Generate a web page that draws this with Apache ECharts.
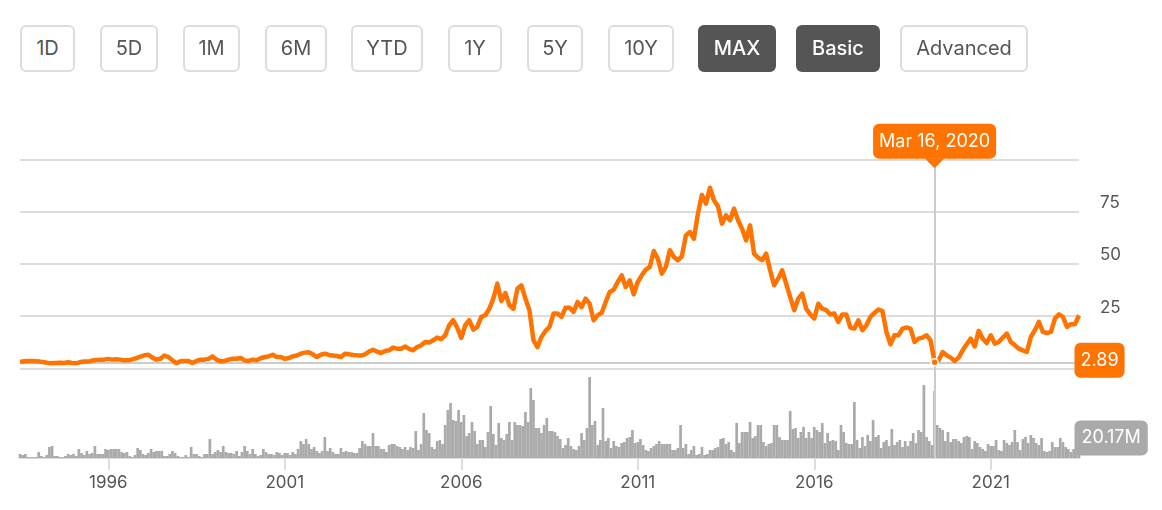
<!DOCTYPE html>
<html>
<head>
<meta charset="utf-8">
<style>
html, body { margin: 0; padding: 0; background: #fff; }
#chart { position: absolute; left: 0; top: 0; width: 1162px; height: 510px; }
.btn {
    position: absolute; top: 25px; height: 47px; box-sizing: border-box;
    border: 2px solid #ddd; border-radius: 6px; background: #fff; color: #555;
    font: 20px/43px Inter, "Liberation Sans", sans-serif; text-align: center;
}
.btn.on { background: #555; border-color: #555; color: #fff; font-weight: 500; }
</style>
<script src="https://cdn.jsdelivr.net/npm/echarts@6/dist/echarts.min.js"></script>
</head>
<body>
<div id="chart"></div>
<script>
// range buttons: label, left, right, active
var buttons = [
    ['1D', 20, 75, 0], ['5D', 100, 158, 0], ['1M', 183, 240, 0], ['6M', 265, 327, 0],
    ['YTD', 351, 423, 0], ['1Y', 448, 502, 0], ['5Y', 527, 583, 0], ['10Y', 608, 674, 0],
    ['MAX', 698, 776, 1], ['Basic', 796, 880, 1], ['Advanced', 900, 1028, 0]
];

var tickLabels = ['1996', '2001', '2006', '2011', '2016', '2021'];
var priceTicks = [25, 50, 75];

// price
var priceValues = [
    3.0,3.35,3.5,3.5,3.35,3.2,2.9,2.55,2.4,2.55,
    2.7,2.55,2.9,2.55,2.4,3.0,3.2,3.2,3.7,4.0,
    4.15,4.15,4.5,4.15,4.3,4.15,3.8,3.8,4.3,4.9,
    5.6,6.2,6.5,5.1,4.15,4.6,6.1,5.4,3.8,2.4,
    3.35,3.5,3.5,2.55,3.5,4.15,4.15,4.5,5.7,4.15,
    3.35,3.5,4.15,4.6,4.6,4.9,3.8,3.5,4.15,3.8,
    4.8,5.4,5.7,6.5,5.4,5.4,4.5,4.9,5.7,6.1,
    7.0,7.5,7.7,6.7,5.4,6.5,7.0,6.4,6.1,5.9,
    5.4,7.0,6.7,6.4,6.2,6.1,6.7,8.0,8.9,8.0,
    7.3,8.3,8.6,9.9,9.4,9.4,10.4,9.3,8.6,
    10.2,11.0,12.6,12.3,13.4,14.7,14.0,
    15.8,20.6,23.0,19.5,14.5,20.6,23.0,18.5,19.8,24.6,
    25.4,28.5,33.3,40.5,32.2,36.0,30.1,28.5,38.1,39.7,
    33.3,27.8,13.4,10.2,15.0,17.9,19.8,26.2,26.2,24.6,
    29.0,29.0,27.0,31.7,29.3,33.3,30.9,23.0,25.4,26.5,
    31.7,36.5,37.6,41.3,44.5,38.9,42.1,35.4,41.3,44.5,
    47.2,48.5,56.1,52.5,45.3,48.5,56.5,53.3,51.7,53.6,
    63.6,65.2,62.0,74.0,83.0,78.8,86.4,80.4,77.5,69.2,
    73.2,70.8,76.4,70.8,66.8,61.2,68.4,54.9,53.0,51.7,
    54.9,46.9,39.7,42.9,46.9,40.5,34.1,27.8,33.3,35.7,
    28.5,25.8,23.8,30.9,28.5,27.8,25.8,26.2,22.2,25.8,
    25.8,19.5,19.0,23.0,18.2,20.6,24.6,26.5,28.1,27.4,
    17.4,11.5,15.8,15.8,19.0,19.5,19.0,12.6,14.2,14.7,
    15.8,13.4,2.89,
    3.8,7.8,6.2,5.1,3.5,5.1,8.6,11.5,14.2,10.5,
    17.9,14.2,12.1,15.8,11.8,12.6,14.7,16.6,12.6,11.0,
    9.4,8.6,7.8,15.0,18.2,22.2,17.4,16.9,17.4,23.8,
    25.8,24.6,19.8,21.1,21.1,25.4
];

// volume in millions
var volumeValues = [
    8,6,8,2,2,2,2,12,4,2,6,22,24,4,4,2,2,4,8,6,8,4,18,10,6,14,8,10,24,8,8,8,18,16,18,18,18,18,12,10,
    12,4,2,6,20,16,8,6,10,18,12,14,14,14,4,4,8,14,10,4,2,2,6,2,22,8,8,4,2,8,8,38,8,12,16,12,24,12,10,10,
    8,14,4,12,24,14,8,18,8,4,6,18,12,8,8,6,12,10,6,10,10,6,12,8,18,34,28,38,28,18,22,14,10,14,42,14,20,12,8,8,
    20,12,14,12,12,10,10,20,34,28,24,24,50,24,24,18,18,12,26,28,28,24,22,18,22,16,22,20,54,16,28,90,56,50,
    22,18,34,36,28,66,96,110,76,74,96,72,86,44,50,72,54,28,36,36,22,52,104,48,26,70,40,36,48,72,36,72,66,66,64,92,72,140,116,60,
    60,50,66,80,54,54,52,44,38,20,26,40,24,18,16,24,50,36,60,162,66,74,26,36,100,34,40,20,34,24,22,30,32,40,42,56,30,32,38,26,
    16,14,20,24,28,34,28,28,28,28,16,16,20,66,20,28,8,16,24,6,8,22,6,8,16,16,20,22,38,40,28,32,16,12,70,30,52,52,52,72,
    40,44,66,66,32,24,28,30,66,66,42,36,36,36,94,58,60,40,52,62,40,52,40,62,56,52,70,30,50,34,36,34,16,66,52,30,28,28,112,36,
    20,42,24,46,
    34,76,42,46,20,32,36,24,58,26,32,36,22,34,24,34,50,30,56,52,146,42,34,26,134,66,60,56,34,52,32,38,38,34,30,42,44,42,18,34,
    30,22,18,14,28,24,24,36,16,14,36,30,26,32,56,32,16,38,42,30,46,40,30,26,40,14,12,14,32,22,22,40,32,22,18,12,18,22,20.17
];

var crossDate = 'Mar 16, 2020';
var crossPrice = 2.89;
var lastVolume = 20.17;

buttons.forEach(function (b) {
    var el = document.createElement('div');
    el.className = b[3] ? 'btn on' : 'btn';
    el.textContent = b[0];
    el.style.left = b[1] + 'px';
    el.style.width = (b[2] - b[1]) + 'px';
    document.body.appendChild(el);
});

var priceCats = priceValues.map(function (v, i) { return String(i); });
var volumeCats = volumeValues.map(function (v, i) { return String(i); });
var crossIndex = priceValues.indexOf(crossPrice);
var crossVolIndex = Math.round(crossIndex * 1.5);
var fontName = 'Inter, "Liberation Sans", sans-serif';
var orange = '#ff7300';
var grey = '#aaaaaa';

function isTickIndex(i) {
    return i >= 33 && (i - 33) % 66 === 0;
}

// invisible anchor so a label can sit on a markPoint
var anchor = {symbol: 'rect', symbolSize: 1, itemStyle: {color: 'transparent'}};

var chart = echarts.init(document.getElementById('chart'));
chart.setOption({
    animation: false,
    grid: [
        {left: 20, width: 1059, top: 159.3, height: 209},
        {left: 20, width: 1059, top: 368, height: 90}
    ],
    xAxis: [
        {
            gridIndex: 0, type: 'category', data: priceCats, boundaryGap: false,
            axisLine: {show: false}, axisTick: {show: false}, axisLabel: {show: false}, splitLine: {show: false}
        },
        {
            gridIndex: 1, type: 'category', data: volumeCats, boundaryGap: false,
            axisLine: {lineStyle: {color: '#dddddd', width: 2}},
            axisTick: {length: 12, interval: isTickIndex, lineStyle: {color: '#dddddd', width: 2}},
            axisLabel: {
                interval: isTickIndex, margin: 16, color: '#555555', fontFamily: fontName, fontSize: 17,
                formatter: function (v) { return tickLabels[(Number(v) - 33) / 66]; }
            }
        }
    ],
    yAxis: [
        {
            gridIndex: 0, type: 'value', position: 'right', min: 0, max: 100, interval: 25,
            axisLine: {show: false}, axisTick: {show: false},
            splitLine: {lineStyle: {color: '#dddddd', width: 2}},
            axisLabel: {
                margin: 21, color: '#555555', fontFamily: fontName, fontSize: 17, verticalAlign: 'bottom', lineHeight: 17,
                formatter: function (v) { return priceTicks.indexOf(v) >= 0 ? String(v) : ''; }
            }
        },
        {
            gridIndex: 1, type: 'value', min: 0, max: 180, show: false
        }
    ],
    series: [
        {
            type: 'bar', xAxisIndex: 1, yAxisIndex: 1, data: volumeValues,
            barWidth: 2.7, itemStyle: {color: grey}, silent: true,
            markLine: {
                silent: true, symbol: 'none', label: {show: false},
                lineStyle: {color: '#cccccc', width: 2, type: 'solid'},
                data: [{xAxis: crossVolIndex}]
            },
            markPoint: {
                silent: true,
                data: [Object.assign({
                    coord: [volumeValues.length - 1, lastVolume],
                    label: {
                        show: true, position: 'right', distance: -5, offset: [0, -10],
                        formatter: lastVolume + 'M', color: '#fff', backgroundColor: grey,
                        fontFamily: fontName, fontSize: 18, borderRadius: 6,
                        padding: [9, 7, 8, 7]
                    }
                }, anchor)]
            }
        },
        {
            type: 'line', xAxisIndex: 0, yAxisIndex: 0, data: priceValues, z: 5,
            showSymbol: false, sampling: null, silent: true,
            lineStyle: {color: orange, width: 4.5, join: 'round'},
            markLine: {
                silent: true, symbol: 'none', label: {show: false}, z: 1,
                data: [
                    {yAxis: crossPrice, lineStyle: {color: '#cccccc', width: 2, type: 'solid'}},
                    [
                        {coord: [crossIndex, 100], lineStyle: {color: '#cccccc', width: 2, type: 'solid'}},
                        {coord: [crossIndex, 0]}
                    ]
                ]
            },
            markPoint: {
                silent: true, z: 10,
                data: [
                    {
                        coord: [crossIndex, crossPrice], symbol: 'circle', symbolSize: 7,
                        itemStyle: {color: orange, borderColor: '#fff', borderWidth: 1.5}, label: {show: false}
                    },
                    {
                        coord: [crossIndex, 100], symbol: 'triangle', symbolSize: [20, 10], symbolRotate: 180,
                        symbolOffset: [0, 4], itemStyle: {color: orange}, label: {show: false}
                    },
                    Object.assign({
                        coord: [crossIndex, 100],
                        label: {
                            show: true, position: 'top', distance: 0, formatter: crossDate, color: '#fff',
                            backgroundColor: orange, fontFamily: fontName, fontSize: 18, borderRadius: 6,
                            padding: [9, 6, 8, 6]
                        }
                    }, anchor),
                    Object.assign({
                        coord: [priceValues.length - 1, crossPrice],
                        label: {
                            show: true, position: 'right', distance: -5, offset: [0, -2],
                            formatter: String(crossPrice), color: '#fff', backgroundColor: orange,
                            fontFamily: fontName, fontSize: 18, borderRadius: 6, padding: [9, 6, 8, 6]
                        }
                    }, anchor)
                ]
            }
        }
    ]
});
</script>
</body>
</html>
